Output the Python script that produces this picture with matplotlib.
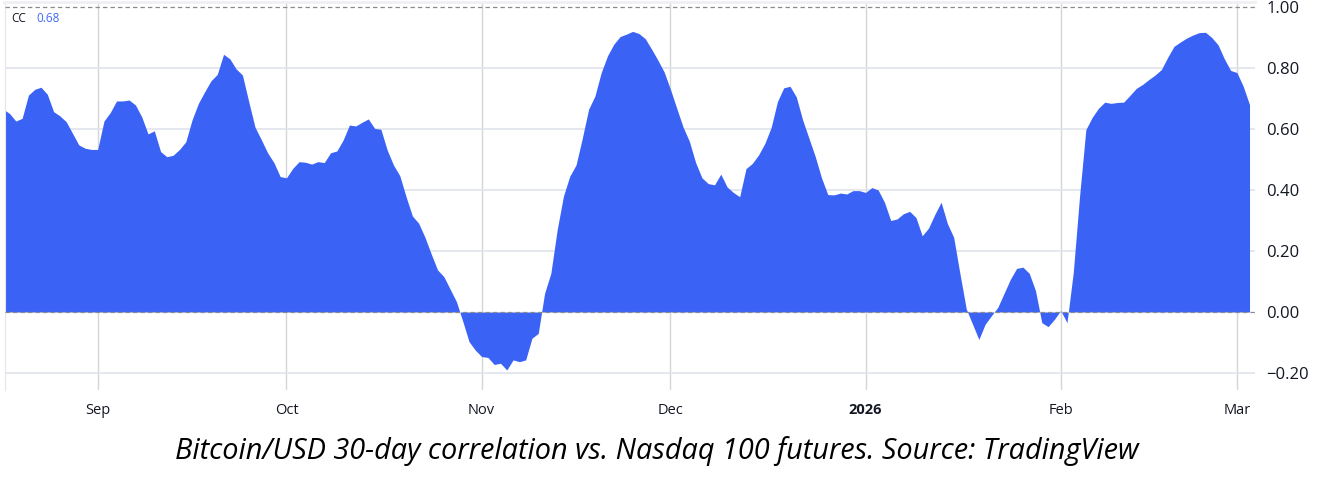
import numpy as np
import pandas as pd
import matplotlib
matplotlib.use("Agg")
import matplotlib.pyplot as plt
import matplotlib.dates as mdates

# ---- data ----
start_date = "2025-08-17"
corr_values = [
    0.665, 0.651, 0.626, 0.635, 0.711, 0.730, 0.737, 0.714, 0.657, 0.643,
    0.624, 0.586, 0.548, 0.537, 0.533, 0.533, 0.626, 0.654, 0.692, 0.692,
    0.695, 0.679, 0.640, 0.584, 0.594, 0.526, 0.509, 0.514, 0.533, 0.558,
    0.630, 0.684, 0.722, 0.758, 0.779, 0.845, 0.830, 0.797, 0.777, 0.690,
    0.606, 0.565, 0.522, 0.490, 0.444, 0.440, 0.471, 0.493, 0.491, 0.485,
    0.493, 0.490, 0.522, 0.528, 0.564, 0.613, 0.610, 0.622, 0.633, 0.602,
    0.599, 0.531, 0.482, 0.447, 0.378, 0.315, 0.291, 0.245, 0.190, 0.138,
    0.116, 0.075, 0.034, -0.030, -0.097, -0.125, -0.146, -0.149, -0.172, -0.168,
    -0.190, -0.157, -0.163, -0.157, -0.086, -0.070, 0.061, 0.127, 0.269, 0.380,
    0.445, 0.482, 0.570, 0.665, 0.708, 0.785, 0.840, 0.878, 0.903, 0.911,
    0.920, 0.913, 0.896, 0.862, 0.826, 0.787, 0.730, 0.668, 0.607, 0.560,
    0.490, 0.440, 0.421, 0.417, 0.452, 0.410, 0.392, 0.378, 0.470, 0.487,
    0.515, 0.553, 0.605, 0.690, 0.735, 0.740, 0.705, 0.630, 0.570, 0.510,
    0.440, 0.385, 0.384, 0.390, 0.387, 0.398, 0.398, 0.392, 0.408, 0.400,
    0.360, 0.300, 0.305, 0.322, 0.330, 0.310, 0.250, 0.275, 0.320, 0.360,
    0.290, 0.245, 0.125, 0.010, -0.040, -0.090, -0.040, -0.012, 0.015, 0.061,
    0.107, 0.143, 0.147, 0.127, 0.070, -0.035, -0.048, -0.024, 0.005, -0.035,
    0.130, 0.380, 0.598, 0.638, 0.668, 0.688, 0.684, 0.687, 0.688, 0.710,
    0.733, 0.746, 0.762, 0.777, 0.795, 0.835, 0.871, 0.885, 0.898, 0.908,
    0.916, 0.917, 0.900, 0.876, 0.830, 0.792, 0.785, 0.740, 0.680,
]
dates = pd.date_range(start_date, periods=len(corr_values), freq="D")

month_ticks = ["2025-09-01", "2025-10-01", "2025-11-01", "2025-12-01",
               "2026-01-01", "2026-02-01", "2026-03-01"]
month_labels = ["Sep", "Oct", "Nov", "Dec", "2026", "Feb", "Mar"]
y_ticks = [1.0, 0.8, 0.6, 0.4, 0.2, 0.0, -0.2]
y_labels = ["1.00", "0.80", "0.60", "0.40", "0.20", "0.00", "\u22120.20"]
legend_name = "CC"
legend_value = "0.68"
caption = "Bitcoin/USD 30-day correlation vs. Nasdaq 100 futures. Source: TradingView"

# ---- style ----
plt.rcParams["font.family"] = ["Open Sans", "DejaVu Sans"]
W, H = 1338, 488
fig = plt.figure(figsize=(W / 100, H / 100), dpi=100)
fig.patch.set_facecolor("white")

ax_left, ax_right = 4.5 / W, 1255 / W
ax_top, ax_bottom = 1 - 2 / H, 1 - 390 / H
ax = fig.add_axes([ax_left, ax_bottom, ax_right - ax_left, ax_top - ax_bottom])

fill_color = "#3a63f6"
grid_color = "#e0e3eb"
text_color = "#131722"

x = mdates.date2num(dates)
ax.fill_between(x, corr_values, 0, color=fill_color, linewidth=0, zorder=2)

# grid
for t in month_ticks:
    ax.axvline(mdates.date2num(pd.Timestamp(t)), color="#d6d6d6", lw=1, zorder=1)
for yv in y_ticks:
    if yv in (0.0, 1.0):
        ax.axhline(yv, color="#8a8a8a", lw=0.9, ls=(0, (3.5, 2.5)), zorder=3)
    else:
        ax.axhline(yv, color=grid_color, lw=1.2, zorder=1)

x0 = mdates.date2num(pd.Timestamp(start_date)) + 0.2
x1 = x[-1] + 0.87
ax.set_xlim(x0, x1)
ax.set_ylim(-0.2557, 1.0164)

ax.set_xticks([mdates.date2num(pd.Timestamp(t)) for t in month_ticks])
ax.set_xticklabels(month_labels)
for lbl, txt in zip(ax.get_xticklabels(), month_labels):
    lbl.set_fontsize(10.5)
    lbl.set_color(text_color)
    if txt == "2026":
        lbl.set_fontweight("bold")
ax.tick_params(axis="x", length=0, pad=9.5)

ax.yaxis.tick_right()
ax.set_yticks(y_ticks)
ax.set_yticklabels(y_labels, fontsize=12, color=text_color)
ax.tick_params(axis="y", length=0, pad=8)

for side in ["right", "bottom"]:
    ax.spines[side].set_visible(False)
ax.spines["left"].set_color("#e6e6e6")
ax.spines["top"].set_color("#eef0f4")
ax.spines["top"].set_linewidth(2)

# legend-like label
ax.text(0.0055, 0.957, legend_name, transform=ax.transAxes, fontsize=8.5,
        color=text_color, ha="left", va="center", zorder=5)
ax.text(0.0257, 0.957, legend_value, transform=ax.transAxes, fontsize=8.5,
        color="#3f6af7", ha="left", va="center", zorder=5)

fig.text(0.491, 1 - 451 / H, caption, ha="center", va="center",
         fontsize=20.8, fontstyle="italic", color="black")

fig.savefig("out.png", dpi=100, facecolor="white")
